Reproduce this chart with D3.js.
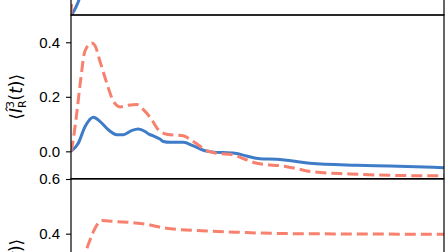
<!DOCTYPE html>
<html>
<head>
<meta charset="utf-8">
<script src="https://cdn.jsdelivr.net/npm/d3@7"></script>
<style>
  body { margin: 0; background: #fff; }
  svg { display: block; font-family: "DejaVu Sans", sans-serif; }
  .axis text { font-size: 15px; fill: #000; }
  .axis path { display: none; }
  .axis line { stroke: #000; stroke-width: 1.1; }
</style>
</head>
<body>
<div id="chart"></div>
<script>
// time axis (arbitrary units, only the shared span matters)
const T_MAX = 20;

// top panel (only its lower edge is in view)
const topBlueT = [0, 0.1, 0.27, 0.39, 0.55, 0.8];
const topBlueV = [0, 0.014, 0.05, 0.081, 0.14, 0.25];
const topRedT = [0, 0.03, 0.06, 0.1];
const topRedV = [0, 0.07, 0.14, 0.25];

// middle panel: <I_R^3(t)>
const midBlueT = [0, 0.39, 0.75, 1.2, 1.55, 2.0, 2.45, 2.8, 3.25, 3.61, 3.97, 4.2, 4.41, 4.77, 4.95, 5.31, 6.02, 6.56, 7.18, 7.54, 8.79, 9.42, 10.13, 11.03, 12.28, 12.82, 15.32, 17.1, 20];
const midBlueV = [0, 0.03, 0.09, 0.125, 0.11, 0.079, 0.061, 0.061, 0.076, 0.082, 0.073, 0.062, 0.057, 0.045, 0.036, 0.033, 0.033, 0.02, 0.002, -0.002, -0.007, -0.017, -0.027, -0.029, -0.039, -0.044, -0.051, -0.054, -0.06];
const midRedT = [0, 0.09, 0.31, 0.52, 0.75, 1.11, 1.29, 1.55, 1.91, 2.27, 2.63, 3.07, 3.52, 3.88, 4.2, 4.33, 4.68, 5.13, 6.02, 6.56, 7.28, 7.81, 8.7, 9.33, 9.96, 10.67, 11.38, 12.19, 12.82, 14.96, 17.1, 20];
const midRedV = [0, 0.03, 0.141, 0.264, 0.368, 0.397, 0.387, 0.331, 0.252, 0.184, 0.163, 0.169, 0.172, 0.153, 0.128, 0.116, 0.079, 0.063, 0.057, 0.036, 0.003, -0.007, -0.013, -0.029, -0.044, -0.05, -0.054, -0.065, -0.074, -0.083, -0.088, -0.09];

// bottom panel (only its upper part is in view)
const botRedT = [0, 0.375, 0.59, 0.8, 1.02, 1.29, 1.65, 2.45, 3.34, 4.24, 4.6, 5.49, 7.28, 9.06, 10.83, 14.42, 20];
const botRedV = [0, 0.17, 0.27, 0.334, 0.377, 0.42, 0.448, 0.444, 0.44, 0.432, 0.426, 0.417, 0.41, 0.405, 0.401, 0.399, 0.398];

// only the ticks that fall inside the window
const midTicks = [0.0, 0.2, 0.4];
const botTicks = [0.4, 0.6];

const BLUE = '#3f7cc8';
const RED = '#f7806f';

const W = 448, H = 252;
const left = 71, right = 444;

const svg = d3.select('#chart').append('svg')
    .attr('width', W).attr('height', H);

const x = d3.scaleLinear().domain([0, T_MAX]).range([left, right]);

const panels = [
    { id: 'top', y: d3.scaleLinear().domain([0, 1]).range([15, -149]), ticks: [],
      series: [{ t: topBlueT, v: topBlueV, c: BLUE }, { t: topRedT, v: topRedV, c: RED, dash: true }] },
    { id: 'mid', y: d3.scaleLinear().domain([-0.1, 0.5]).range([178.6, 15]), ticks: midTicks,
      label: 'R',
      series: [{ t: midBlueT, v: midBlueV, c: BLUE }, { t: midRedT, v: midRedV, c: RED, dash: true }] },
    { id: 'bot', y: d3.scaleLinear().domain([0, 0.6]).range([343, 179]), ticks: botTicks,
      label: 'L',
      series: [{ t: botRedT, v: botRedV, c: RED, dash: true }] }
];

panels.forEach(p => {
    const [y0, y1] = p.y.range();
    const g = svg.append('g');

    g.append('clipPath').attr('id', 'clip-' + p.id)
        .append('rect')
        .attr('x', left).attr('y', y1)
        .attr('width', right - left).attr('height', y0 - y1);

    const line = d3.line()
        .x(d => x(d[0]))
        .y(d => p.y(d[1]))
        .curve(d3.curveMonotoneX);

    // solid line first, dashed on top
    p.series.forEach(s => {
        g.append('path')
            .datum(s.t.map((t, i) => [t, s.v[i]]))
            .attr('clip-path', `url(#clip-${p.id})`)
            .attr('fill', 'none')
            .attr('stroke', s.c)
            .attr('stroke-width', 3)
            .attr('stroke-dasharray', s.dash ? '11 5' : null)
            .attr('d', line);
    });

    // Y axis
    g.append('g')
        .attr('class', 'axis')
        .attr('transform', `translate(${left},0)`)
        .call(d3.axisLeft(p.y).tickValues(p.ticks).tickSize(5).tickPadding(6)
            .tickFormat(d3.format('.1f')));

    // frame
    g.append('rect')
        .attr('x', left).attr('y', y1)
        .attr('width', right - left).attr('height', y0 - y1)
        .attr('fill', 'none')
        .attr('stroke', '#000')
        .attr('stroke-width', 1.2);

    // Y label
    if (p.label) {
        const cy = (y0 + y1) / 2;
        const lab = g.append('text')
            .attr('transform', `translate(22,${cy}) rotate(-90)`)
            .attr('text-anchor', 'middle')
            .attr('font-size', 17)
            .attr('fill', '#000');
        lab.append('tspan').text('\u27E8');
        lab.append('tspan').attr('font-style', 'italic').text('\u00CE');
        lab.append('tspan').attr('font-size', 11).attr('dy', -8).text('3');
        lab.append('tspan').attr('font-size', 11).attr('dx', -7).attr('dy', 12).text(p.label);
        lab.append('tspan').attr('dy', -4).text('(');
        lab.append('tspan').attr('font-style', 'italic').text('t');
        lab.append('tspan').text(')\u27E9');
    }
});
</script>
</body>
</html>
